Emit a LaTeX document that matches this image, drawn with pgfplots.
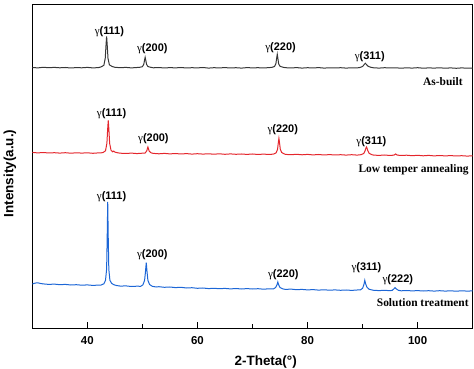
\documentclass[border=0pt]{standalone}
\usepackage{fontspec}
\setmainfont{Liberation Sans}
\newfontfamily\tnr{Liberation Serif}
\usepackage{pgfplots}
\pgfplotsset{compat=1.18}
\definecolor{cgray}{RGB}{55,55,55}
\definecolor{cred}{RGB}{228,38,44}
\definecolor{cblue}{RGB}{28,102,214}
\newcommand{\g}[1]{{\tnr γ}{\bfseries(#1)}}
\begin{document}
\begin{tikzpicture}
\begin{axis}[
  scale only axis, width=440.4bp, height=324bp,
  xmin=30, xmax=110, ymin=41, ymax=365,
  ytick=\empty, xtick={40,60,80,100}, minor xtick={50,70,90},
  tick align=inside, xtick pos=bottom,
  major tick length=6.5bp, minor tick length=4bp,
  axis line style={line width=1.5bp},
  every tick/.style={line width=1.5bp,black},
  ticklabel style={font=\fontsize{11.5}{13}\selectfont\bfseries},
  xticklabel style={yshift=-5bp},
  /pgf/number format/assume math mode=true,
  xlabel={2-Theta(°)},
  xlabel style={font=\fontsize{13.5}{15}\selectfont\bfseries, at={(axis description cs:0.53,0)}, anchor=center, yshift=-33.5bp},
  ylabel={Intensity(a.u.)},
  ylabel style={font=\fontsize{13.5}{15}\selectfont\bfseries, at={(axis description cs:-0.0506,0.478)}, anchor=center},
]
\addplot[cgray, line width=1bp] coordinates {(30,301.8)(31,301.4)(32,302.0)(33,301.6)(34,301.9)(35,301.5)(36,301.8)(37,301.3)(38,301.7)(39,301.5)(40,301.9)(41,301.4)(42,301.7)(42.5,302.4)(43.0,304.0)(43.25,311)(43.4,325)(43.5,333)(43.6,325)(43.75,311)(44.0,304.5)(44.5,302.8)(45,302.0)(46,301.6)(47,301.9)(48,301.4)(49,301.8)(49.5,302.0)(50.0,302.6)(50.25,305)(50.4,309.5)(50.5,312)(50.6,309.5)(50.75,305)(51.0,302.8)(51.5,302.0)(52,301.5)(53,301.8)(54,301.3)(55,301.7)(56,301.4)(57,301.8)(58,301.3)(59,301.6)(60,301.4)(61,301.8)(62,301.2)(63,301.6)(64,301.4)(65,301.7)(66,301.3)(67,301.6)(68,301.2)(69,301.7)(70,301.4)(71,301.6)(72,301.3)(73,301.7)(73.5,301.9)(74.0,302.8)(74.25,305.5)(74.4,311.5)(74.5,315)(74.6,311.5)(74.75,305.5)(75.0,303)(75.5,302.1)(76,301.6)(77,301.3)(78,301.7)(79,301.2)(80,301.6)(81,301.3)(82,301.7)(83,301.2)(84,301.5)(85,301.3)(86,301.6)(87,301.2)(88,301.5)(89,301.4)(89.5,301.8)(90.0,302.8)(90.25,304.5)(90.5,306)(90.75,304.5)(91.0,303)(91.5,302)(92,301.5)(93,301.2)(94,301.6)(95,301.3)(96,301.5)(97,301.1)(98,301.5)(99,301.2)(100,301.6)(101,301.1)(102,301.4)(103,301.2)(104,301.5)(105,301.1)(106,301.4)(107,301.0)(108,301.4)(109,301.1)(110,301.3)};
\addplot[cred, line width=1bp] coordinates {(30,216.9)(31,216.4)(32,216.8)(33,216.3)(34,216.6)(35,216.2)(36,216.6)(37,216.1)(38,216.5)(39,216.2)(40,216.5)(41,216.0)(42,216.4)(42.8,216.6)(43.3,218.5)(43.55,226)(43.7,241)(43.8,249)(43.9,241)(44.05,226)(44.3,219)(44.6,217.5)(44.8,218.2)(45.0,217.2)(45.5,216.5)(46,216.1)(47,215.8)(48,216.2)(49,215.7)(50,216.1)(50.5,216.3)(50.8,218.5)(50.9,220.5)(51.0,222.3)(51.1,220.5)(51.25,218)(51.6,216.4)(52,215.9)(53,215.5)(54,215.9)(55,215.4)(56,215.8)(57,215.3)(58,215.7)(59,215.2)(60,215.6)(61,215.2)(62,215.5)(63,215.1)(64,215.5)(65,215.0)(66,215.4)(67,215.0)(68,215.3)(69,214.9)(70,215.3)(71,214.8)(72,215.2)(73,214.8)(73.8,215.2)(74.3,216.5)(74.55,220)(74.7,227)(74.8,231)(74.9,227)(75.05,220)(75.3,216.8)(75.8,215.3)(76,214.9)(77,214.6)(78,215.0)(79,214.5)(80,214.9)(81,214.4)(82,214.8)(83,214.3)(84,214.7)(85,214.3)(86,214.6)(87,214.2)(88,214.6)(89,214.2)(89.7,214.6)(90.2,215.8)(90.45,218.5)(90.6,221.2)(90.7,222.3)(90.8,221.2)(90.95,218.5)(91.2,216)(91.7,214.6)(92,214.2)(93,213.9)(94,214.3)(95,213.8)(95.7,214.2)(96.0,215.3)(96.3,214.2)(97,213.8)(98,214.1)(99,213.6)(100,214.0)(101,213.5)(102,213.9)(103,213.4)(104,213.8)(105,213.4)(106,213.7)(107,213.3)(108,213.6)(109,213.2)(110,213.5)};
\addplot[cblue, line width=1bp] coordinates {(30,85.3)(30.5,86.2)(31,86.5)(31.5,85.8)(32,85.4)(33,84.9)(34,85.2)(35,84.6)(36,84.9)(37,84.3)(38,84.6)(39,84.1)(40,84.4)(41,83.9)(42,84.2)(42.5,84.3)(43.0,85.5)(43.3,89)(43.5,100)(43.6,130)(43.7,167.3)(43.8,130)(43.9,100)(44.1,89)(44.4,86)(44.8,84.6)(45.3,83.8)(46,83.2)(47,83.4)(48,82.8)(49,83.1)(49.7,83.0)(50.1,84.5)(50.4,89)(50.55,97)(50.7,106.7)(50.85,97)(51.0,89)(51.3,84.8)(51.8,83.0)(52.5,82.3)(53,82.6)(54,82.0)(55,82.3)(56,81.7)(57,82.0)(58,81.3)(59,81.6)(60,81.0)(61,81.3)(62,80.7)(63,81.0)(64,80.6)(65,80.9)(66,80.4)(67,80.8)(68,80.3)(69,80.7)(70,80.3)(71,80.6)(72,80.1)(73,80.5)(73.8,80.4)(74.2,81.8)(74.45,84.5)(74.6,87.3)(74.75,84.5)(75.0,81.8)(75.5,80.4)(76,79.9)(77,80.2)(78,79.6)(79,79.9)(80,79.4)(81,79.7)(82,79.2)(83,79.5)(84,79.1)(85,79.4)(86,79.0)(87,79.3)(88,78.9)(89,79.3)(89.6,79.4)(90.0,81)(90.25,85)(90.4,89)(90.55,85.5)(90.8,82)(91.2,80)(92,79.0)(93,78.7)(94,79.0)(95,78.6)(95.4,79.0)(95.7,80.5)(95.9,81.7)(96.1,80.5)(96.5,79.0)(97,78.5)(98,78.8)(99,78.4)(100,78.7)(101,78.3)(102,78.6)(103,78.2)(104,78.6)(105,78.2)(106,78.5)(107,78.1)(108,78.5)(109,78.2)(110,78.4)};
\begin{scope}[every node/.style={font=\fontsize{11}{13}\selectfont, inner sep=0pt}]
\node at (axis cs:44.0,338) {\g{111}};
\node at (axis cs:51.8,321) {\g{200}};
\node at (axis cs:75.1,322) {\g{220}};
\node at (axis cs:91.3,313) {\g{311}};
\node at (axis cs:44.4,256) {\g{111}};
\node at (axis cs:52.0,231) {\g{200}};
\node at (axis cs:75.5,240) {\g{220}};
\node at (axis cs:91.6,228) {\g{311}};
\node at (axis cs:44.4,173) {\g{111}};
\node at (axis cs:51.8,115) {\g{200}};
\node at (axis cs:75.6,95) {\g{220}};
\node at (axis cs:90.7,102) {\g{311}};
\node at (axis cs:96.4,90) {\g{222}};
\end{scope}
\begin{scope}[every node/.style={font=\tnr\fontsize{11.5}{13}\selectfont\bfseries, inner sep=0pt, anchor=east}]
\node at (axis cs:108.2,288) {As-built};
\node at (axis cs:109.3,200) {Low temper annealing};
\node at (axis cs:109.3,67) {Solution treatment};
\end{scope}
\end{axis}
\pgfresetboundingbox
\path[use as bounding box] (current axis.south west) ++(-32.3bp,-40.7bp) rectangle ++(474bp,369bp);
\end{tikzpicture}
\end{document}
